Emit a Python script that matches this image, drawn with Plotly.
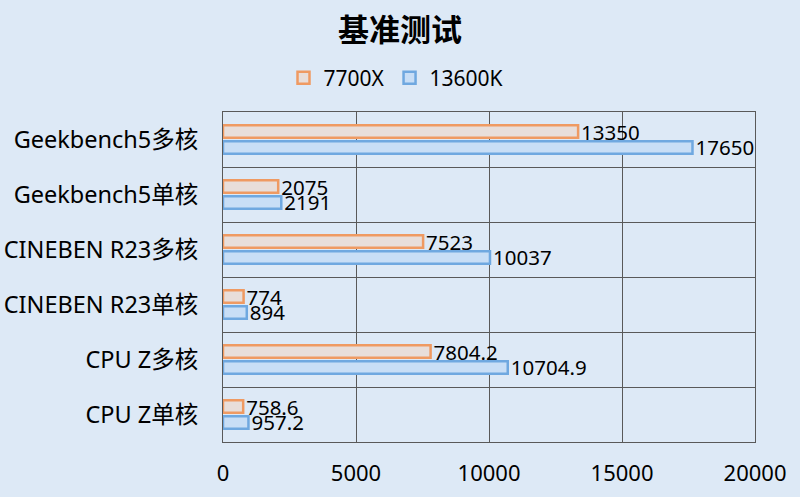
import plotly.graph_objects as go

categories = ["Geekbench5多核", "Geekbench5单核", "CINEBEN R23多核", "CINEBEN R23单核", "CPU Z多核", "CPU Z单核"]
series_names = ["7700X", "13600K"]
vals_7700x = [13350, 2075, 7523, 774, 7804.2, 758.6]
vals_13600k = [17650, 2191, 10037, 894, 10704.9, 957.2]
text_7700x = ["13350", "2075", "7523", "774", "7804.2", "758.6"]
text_13600k = ["17650", "2191", "10037", "894", "10704.9", "957.2"]
x_ticks = [0, 5000, 10000, 15000, 20000]

FONT = "Noto Sans, Noto Sans CJK SC, sans-serif"
BG = "#DDE9F6"

fig = go.Figure()
fig.add_trace(go.Bar(
    y=categories, x=vals_7700x, orientation="h", name=series_names[0],
    text=text_7700x, textposition="outside", cliponaxis=False, constraintext="none",
    textfont=dict(size=20.5, color="#000000", family=FONT),
    marker=dict(color="rgba(232,222,218,1)", line=dict(color="#EF9A62", width=2.5)),
))
fig.add_trace(go.Bar(
    y=categories, x=vals_13600k, orientation="h", name=series_names[1],
    text=text_13600k, textposition="outside", cliponaxis=False, constraintext="none",
    textfont=dict(size=20.5, color="#000000", family=FONT),
    marker=dict(color="rgba(200,222,246,1)", line=dict(color="#6FA8E0", width=2.5)),
))

fig.update_layout(
    width=800, height=497,
    paper_bgcolor=BG, plot_bgcolor=BG,
    margin=dict(l=223, r=45, t=112, b=55),
    barmode="group", bargap=0.42, bargroupgap=0.22,
    font=dict(family=FONT, color="#000000"),
    title=dict(text="<b>基准测试</b>", x=0.5, xanchor="center", y=0.94, yanchor="middle",
               font=dict(size=31, family=FONT, color="#000000")),
    legend=dict(orientation="h", xref="container", yref="container", x=0.495, xanchor="center",
                y=0.843, yanchor="middle", font=dict(size=21, family=FONT),
                bgcolor="rgba(0,0,0,0)", itemwidth=30),
    showlegend=True,
)
fig.update_xaxes(range=[0, 20000], tickvals=x_ticks, ticktext=[str(v) for v in x_ticks],
                 showgrid=True, gridcolor="#595959", gridwidth=1, zeroline=False,
                 showline=True, linecolor="#595959", mirror=True, automargin=False,
                 tickfont=dict(size=22, family=FONT), ticks="", ticklabelstandoff=12)
fig.update_yaxes(autorange="reversed", tickson="boundaries", showgrid=True,
                 gridcolor="#595959", gridwidth=1, showline=True, linecolor="#595959",
                 mirror=True, ticks="", automargin=False,
                 tickfont=dict(size=23.5, family=FONT), ticklabelstandoff=19)

fig.write_html("out.html")
